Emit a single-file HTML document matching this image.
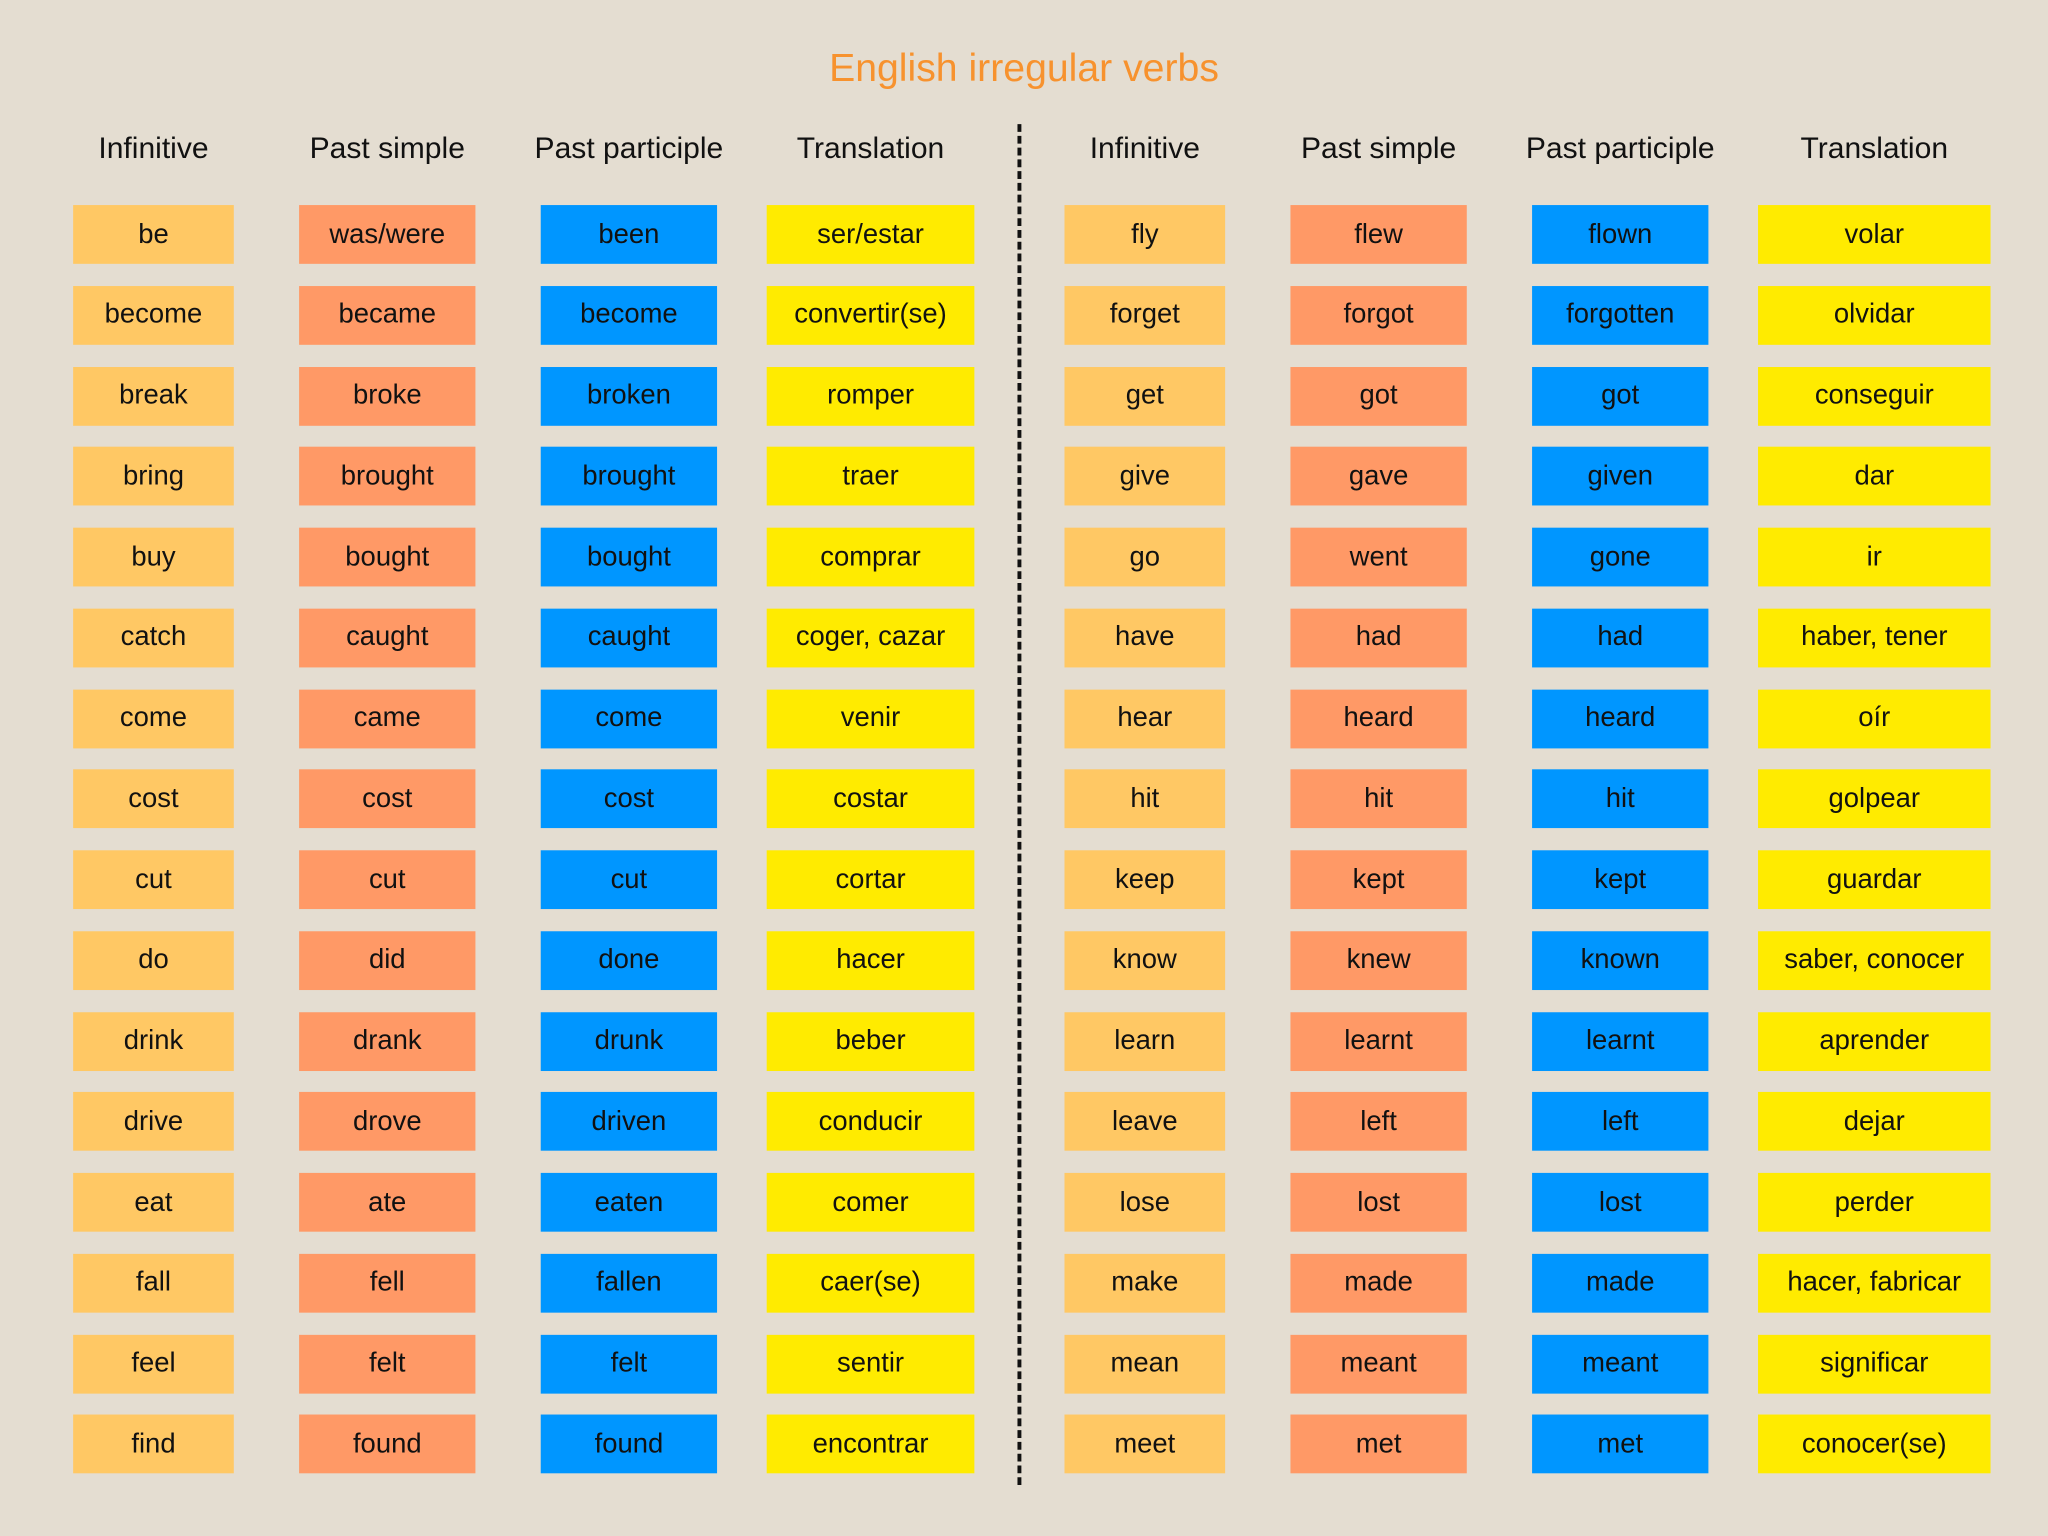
<!DOCTYPE html>
<html><head><meta charset="utf-8"><style>
html,body{margin:0;padding:0;}
body{width:2048px;height:1536px;overflow:hidden;background:#e4ddd1;}
#stage{position:absolute;left:0;top:0;width:1568px;height:1176px;transform:scale(1.306122);transform-origin:0 0;font-family:"Liberation Sans",sans-serif;}
.box{position:absolute;height:45px;display:flex;align-items:center;justify-content:center;font-size:21px;color:#111;}
.hdr{position:absolute;font-size:23px;color:#111;text-align:center;top:100px;}
#title{position:absolute;left:0;width:1568px;top:36px;text-align:center;font-size:30px;color:#f7922e;}
#divider{position:absolute;left:779px;top:95px;height:1042px;border-left:3px dashed #111;}
</style></head><body>
<div id="stage">
<div id="title">English irregular verbs</div>
<div id="divider"></div>
</div>
<script>
const headers=["Infinitive","Past simple","Past participle","Translation"];
const leftInf=["be","become","break","bring","buy","catch","come","cost","cut","do","drink","drive","eat","fall","feel","find"];
const leftPast=["was/were","became","broke","brought","bought","caught","came","cost","cut","did","drank","drove","ate","fell","felt","found"];
const leftPart=["been","become","broken","brought","bought","caught","come","cost","cut","done","drunk","driven","eaten","fallen","felt","found"];
const leftTrans=["ser/estar","convertir(se)","romper","traer","comprar","coger, cazar","venir","costar","cortar","hacer","beber","conducir","comer","caer(se)","sentir","encontrar"];
const rightInf=["fly","forget","get","give","go","have","hear","hit","keep","know","learn","leave","lose","make","mean","meet"];
const rightPast=["flew","forgot","got","gave","went","had","heard","hit","kept","knew","learnt","left","lost","made","meant","met"];
const rightPart=["flown","forgotten","got","given","gone","had","heard","hit","kept","known","learnt","left","lost","made","meant","met"];
const rightTrans=["volar","olvidar","conseguir","dar","ir","haber, tener","oír","golpear","guardar","saber, conocer","aprender","dejar","perder","hacer, fabricar","significar","conocer(se)"];
const stage=document.getElementById('stage');
const cols=[
 {x:56,w:123,c:'#ffc864',d:leftInf,n:'infinitive'},
 {x:229,w:135,c:'#ff9966',d:leftPast,n:'past-simple'},
 {x:414,w:135,c:'#0096ff',d:leftPart,n:'past-participle'},
 {x:587,w:159,c:'#ffeb00',d:leftTrans,n:'translation'},
 {x:815,w:123,c:'#ffc864',d:rightInf,n:'infinitive'},
 {x:988,w:135,c:'#ff9966',d:rightPast,n:'past-simple'},
 {x:1173,w:135,c:'#0096ff',d:rightPart,n:'past-participle'},
 {x:1346,w:178,c:'#ffeb00',d:rightTrans,n:'translation'}
];
cols.forEach((col,ci)=>{
 const h=document.createElement('div');
 h.className='hdr';
 h.style.left=(col.x-30)+'px';h.style.width=(col.w+60)+'px';
 h.textContent=headers[ci%4];
 
 
 stage.appendChild(h);
 col.d.forEach((t,i)=>{
  const b=document.createElement('div');
  b.className='box';
  b.style.left=col.x+'px';b.style.width=col.w+'px';
  b.style.top=(157+i*61.75)+'px';b.style.background=col.c;
  b.textContent=t;
  
  
  stage.appendChild(b);
 });
});
</script>
</body></html>
